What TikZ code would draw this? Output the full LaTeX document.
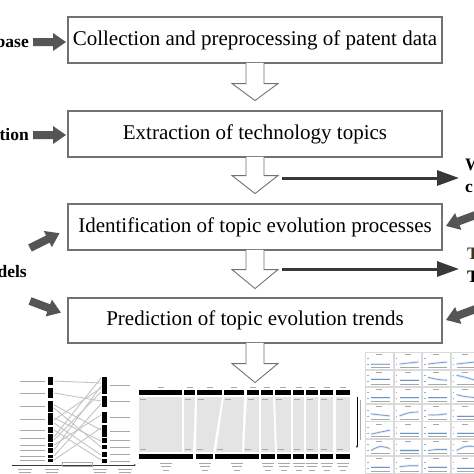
\documentclass[tikz,border=0pt]{standalone}
\usepackage{fontspec}
\setmainfont{Liberation Serif}
\usetikzlibrary{arrows.meta,calc}
\definecolor{boxgray}{HTML}{727272}
\definecolor{arrgray}{HTML}{555555}
\definecolor{darkline}{HTML}{383838}
\definecolor{tgold}{HTML}{3E3521}
\definecolor{bandgray}{HTML}{E4E4E4}
\definecolor{linkgray}{HTML}{C4C4C4}
\definecolor{tinygray}{HTML}{A8A8A8}
\definecolor{plotblue}{HTML}{6C95C8}
\definecolor{plotband}{HTML}{DCE8F5}
\definecolor{cellgray}{HTML}{DADADA}
\begin{document}
\begin{tikzpicture}[x=1pt,y=-1pt,
  stepbox/.style={draw=boxgray, line width=1.1pt, fill=white, minimum width=374pt,
    minimum height=46pt, inner sep=0pt, font=\fontsize{21}{24}\selectfont},
  sidelabel/.style={font=\bfseries\fontsize{17.5}{20}\selectfont, inner sep=0pt},
  longarr/.style={draw=darkline, line width=3pt, -{Triangle[length=22pt,width=15pt]}},
  hollow/.style={draw=boxgray, line width=0.9pt, fill=white},
  blockarr/.pic={\fill[arrgray] (0,-4) -- (20,-4) -- (20,-9) -- (33,0) -- (20,9) -- (20,4) -- (0,4) -- cycle;},
  tiny/.style={draw=tinygray, line width=0.6pt},
  blackbar/.style={fill=black}
]
\useasboundingbox (0,0) rectangle (474,474);
\fill[white] (0,0) rectangle (474,474);

% ---------------- main boxes ----------------
\node[stepbox] (b1) at (255,40) {Collection and preprocessing of patent data};
\node[stepbox] (b2) at (255,134) {Extraction of technology topics};
\node[stepbox] (b3) at (255,227) {Identification of topic evolution processes};
\node[stepbox, minimum height=45pt] (b4) at (255,320.5) {Prediction of topic evolution trends};

% ---------------- hollow arrows ----------------
\fill[white] ($(b1.south)+(-8.5,-0.8)$) rectangle ($(b1.south)+(8.5,1)$);
\draw[hollow] ($(b1.south)+(-9,-0.6)$) -- ++(0,20.6) -- ++(-14,0) -- ($(b1.south)+(0,37)$)
  -- ($(b1.south)+(23,20)$) -- ++(-14,0) -- ++(0,-20.6);
\fill[white] ($(b2.south)+(-8.5,-0.8)$) rectangle ($(b2.south)+(8.5,1)$);
\draw[hollow] ($(b2.south)+(-9,-0.6)$) -- ++(0,18.6) -- ++(-14,0) -- ($(b2.south)+(0,36)$)
  -- ($(b2.south)+(23,18)$) -- ++(-14,0) -- ++(0,-18.6);
\fill[white] ($(b3.south)+(-8.5,-0.8)$) rectangle ($(b3.south)+(8.5,1)$);
\draw[hollow] ($(b3.south)+(-9,-0.6)$) -- ++(0,19.6) -- ++(-14,0) -- ($(b3.south)+(0,38)$)
  -- ($(b3.south)+(23,19)$) -- ++(-14,0) -- ++(0,-19.6);
\fill[white] ($(b4.south)+(-8.5,-0.8)$) rectangle ($(b4.south)+(8.5,1)$);
\draw[hollow] ($(b4.south)+(-9,-0.6)$) -- ++(0,20.6) -- ++(-14,0) -- ($(b4.south)+(0,39)$)
  -- ($(b4.south)+(23,20)$) -- ++(-14,0) -- ++(0,-20.6);

% ---------------- left side inputs ----------------
\node[sidelabel, anchor=east] (l1) at (29,42) {base};
\node[sidelabel, anchor=east] (l2) at (29,135) {tion};
\node[sidelabel, anchor=east] (l3) at (27,272) {dels};
\pic at (33,42) {blockarr};
\pic at (33,135) {blockarr};
\pic[rotate=26.6] at (30,248) {blockarr};
\pic[rotate=-20.6] at (30,301) {blockarr};

% ---------------- right side outputs ----------------
\coordinate (o1s) at (282,178); \coordinate (o1e) at (459,178);
\coordinate (o2s) at (282,269); \coordinate (o2e) at (459,269);
\draw[longarr] (o1s) -- (o1e);
\draw[longarr] (o2s) -- (o2e);
\node[sidelabel, anchor=west] (r1) at (465,165) {W};
\node[sidelabel, anchor=west] (r2) at (465,188) {c};
\node[sidelabel, anchor=west, text=tgold] (r3) at (467,254) {T};
\node[sidelabel, anchor=west] (r4) at (467,277) {T};
\pic[rotate=-159.7] at (477,214.5) {blockarr};
\pic[rotate=-159.7] at (477,308.5) {blockarr};

% ---------------- bottom-left image (alluvial links) ----------------
\foreach \ya/\yb in {381/383, 393/401, 405/430, 408/447, 418/441, 420/388, 430/460,
  437/378, 445/415, 450/386, 456/404, 460/428, 423/455, 440/392}
  \draw[linkgray, line width=0.9pt] (54,\ya) -- (101,\yb);
\foreach \ya/\yb in {377/385, 388/398, 401/412, 413/425, 427/433, 434/442, 443/447, 448/453, 455/458, 459/462}
  {\fill[blackbar] (48,\ya) rectangle (53,\yb);
   \draw[tiny] (20,{(\ya+\yb)/2}) -- (45,{(\ya+\yb)/2});}
\foreach \ya/\yb in {377/394, 396/407, 412/423, 425/437, 438/443, 445/449, 452/457, 459/463}
  {\fill[blackbar] (102,\ya) rectangle (107,\yb);
   \draw[tiny] (110,{(\ya+\yb)/2}) -- (130,{(\ya+\yb)/2});}
\draw[darkline, line width=0.6pt, -{Stealth[length=2pt]}] (12,465) -- (136,465);
\draw[tinygray, line width=0.5pt] (62,462) rectangle (92,466);
\foreach \x in {25,52,100,125} \draw[tiny] (\x-7,469) -- (\x+7,469) (\x-6,472) -- (\x+6,472);

% ---------------- bottom-middle image (bands) ----------------
\foreach \ta/\tb/\ba/\bb in {139/182/139/182, 184/195/184/193, 197/222/196/213, 224/244/216/242,
  247/259/244/259, 261/273/261/275, 275/291/277/291, 293/304/293/304, 306/318/306/318,
  320/333/320/333, 336/350/336/350}
  {\fill[bandgray] (\ta,397) -- (\tb,397) -- (\bb,452) -- (\ba,452) -- cycle;
   \fill[blackbar] (\ta,390) rectangle (\tb,395);
   \draw[tiny] ({(\ta+\tb)/2-3},387) -- ({(\ta+\tb)/2+3},387);
   \draw[tiny, line width=0.4pt] (\ta+1,399.5) -- (\ta+7,399.5);
   \draw[tiny, line width=0.4pt] (\ba+1,449.5) -- (\ba+7,449.5);}
\foreach \ba/\bb in {139/193, 196/213, 215/259, 261/275, 277/291, 293/304, 306/318, 320/333, 336/350}
  {\fill[blackbar] (\ba,454) rectangle (\bb,459);
   \draw[tiny] ({(\ba+\bb)/2-6},463) -- ({(\ba+\bb)/2+6},463)
     ({(\ba+\bb)/2-5},466.5) -- ({(\ba+\bb)/2+5},466.5)
     ({(\ba+\bb)/2-3},470) -- ({(\ba+\bb)/2+3},470);}
\draw[black, line width=0.7pt, -{Stealth[length=2.5pt]}] (357,397) -- (357,448);
\draw[tiny, line width=0.4pt] (360,400) -- (360,440);

% ---------------- bottom-right image (small multiples) ----------------
\foreach \c/\r/\a/\m/\b in {
  0/0/12/12/12, 1/0/12/11/10, 2/0/12/11/10, 3/0/12/11/10,
  0/1/10/10/10, 1/1/11/11/11, 2/1/8/10/11, 3/1/6/8/11,
  0/2/11/11/11, 1/2/11/11/11, 2/2/11/11/11, 3/2/8/10/11,
  0/3/10/11/12, 1/3/12/9/8, 2/3/11/11/10, 3/3/12/12/12,
  0/4/13/11/9, 1/4/12/12/12, 2/4/12/12/12, 3/4/12/12/12,
  0/5/12/8/10, 1/5/12/12/12, 2/5/12/11/11, 3/5/12/8/8,
  0/6/11/11/11, 1/6/11/10/10, 2/6/11/11/11, 3/6/12/12/12}
{
  \pgfmathsetmacro{\xo}{365+28.5*\c}
  \pgfmathsetmacro{\yo}{352+17.3*\r}
  \draw[cellgray, line width=0.5pt] (\xo+0.5,\yo+0.5) rectangle (\xo+28,\yo+17);
  \draw[tiny, line width=0.4pt] (\xo+11,\yo+2.5) -- (\xo+17,\yo+2.5);
  \draw[tiny, line width=0.3pt] (\xo+2,\yo+6) -- (\xo+3.5,\yo+6) (\xo+2,\yo+12) -- (\xo+3.5,\yo+12);
  \draw[plotband, line width=2.2pt] plot[smooth] coordinates {({\xo+6},{\yo+\a}) ({\xo+15},{\yo+\m}) ({\xo+25},{\yo+\b})};
  \draw[plotblue, line width=0.6pt] plot[smooth] coordinates {({\xo+6},{\yo+\a}) ({\xo+15},{\yo+\m}) ({\xo+25},{\yo+\b})};
  \draw[tiny, line width=0.3pt] (\xo+6,\yo+15) -- (\xo+25,\yo+15);
}
\end{tikzpicture}
\end{document}
